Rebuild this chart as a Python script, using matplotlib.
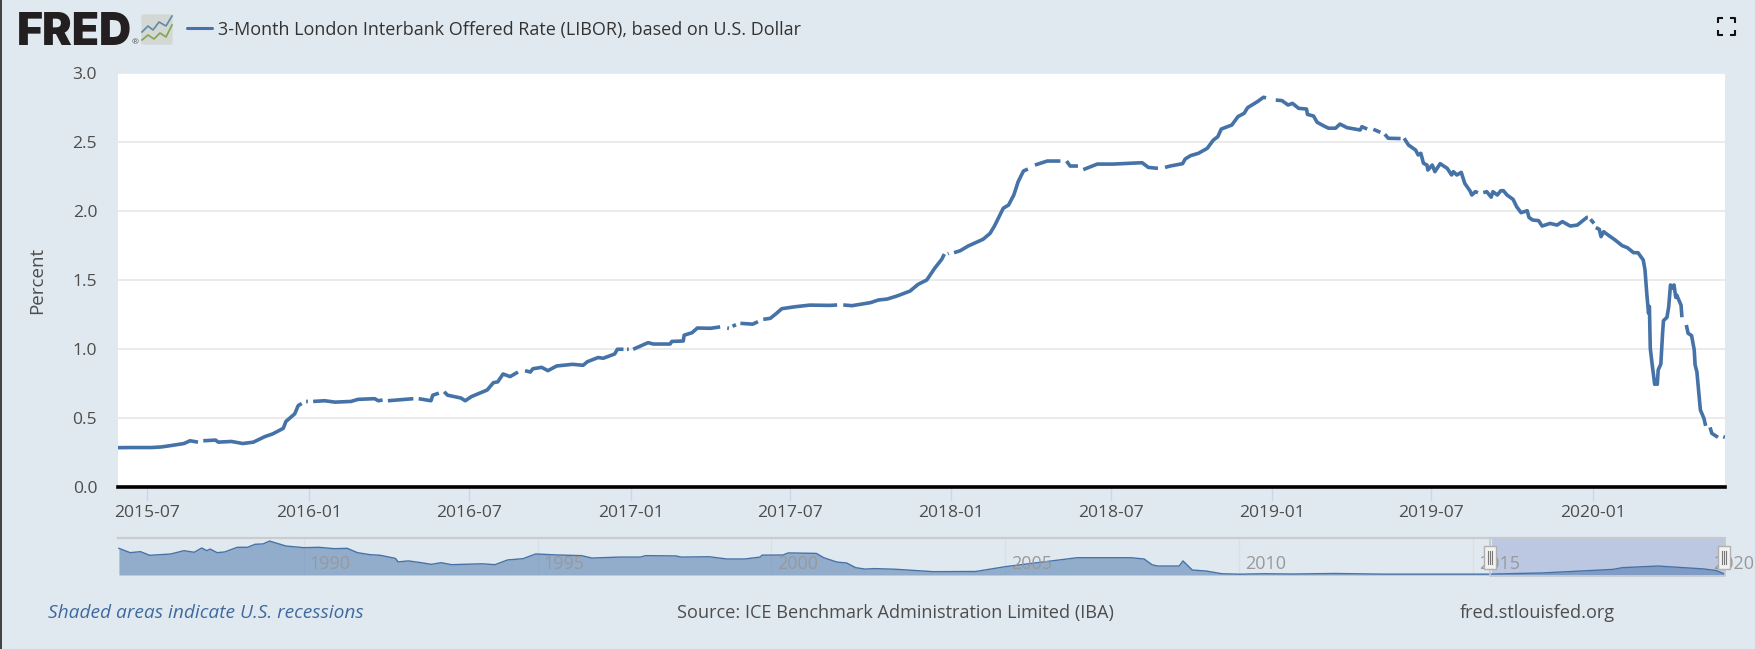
import datetime as dt
import numpy as np
import matplotlib
matplotlib.use('Agg')
import matplotlib.pyplot as plt
import matplotlib.dates as mdates
from matplotlib.patches import FancyBboxPatch, Rectangle

plt.rcParams['font.family'] = ['Open Sans', 'DejaVu Sans']

W, H = 1755, 649
BG = '#e1e9f0'
BLUE = '#4572a7'
GREY = '#4d4d4d'
nan = np.nan

# days since the first date on the x axis, nan marks a gap in the series
first_date = dt.date(2015, 5, 29)
libor_days = [
    0, 15, 38, 49, 60, 75, 82, 91, 94, 97, 111, 114, 129, 142, 154, 167, 176, 188, 191, 201,
    205, 209, 212, 214, 216, 219, 222, 235, 247, 265, 273, 292, 296, 301, 304, 307, 336, 339, 342, 356,
    358, 365, 368, 371, 375, 390, 395, 402, 420, 427, 432, 438, 446, 455, 459, 463, 469, 472, 482, 489,
    499, 517, 529, 534, 546, 552, 565, 568, 575, 577, 579, 581, 583, 586, 596, 603, 609, 628, 630, 643,
    644, 653, 659, 674, 685, 689, 693, 695, 697, 699, 703, 705, 708, 722, 728, 731, 734, 742, 749, 755,
    770, 787, 810, 818, 821, 825, 835, 856, 865, 875, 887, 901, 910, 920, 929, 937, 940, 942, 944, 945,
    948, 951, 958, 967, 984, 992, 997, 1007, 1013, 1019, 1024, 1030, 1035, 1039, 1043, 1057, 1072, 1075, 1079, 1083,
    1092, 1095, 1098, 1114, 1132, 1148, 1165, 1172, 1183, 1187, 1191, 1197, 1211, 1214, 1220, 1229, 1239, 1246, 1251, 1255,
    1267, 1274, 1281, 1285, 1296, 1303, 1306, 1308, 1311, 1314, 1317, 1324, 1331, 1336, 1343, 1352, 1353, 1360, 1364, 1373,
    1377, 1385, 1390, 1398, 1413, 1415, 1421, 1424, 1428, 1436, 1438, 1441, 1445, 1459, 1461, 1463, 1468, 1476, 1479, 1482,
    1485, 1489, 1490, 1495, 1498, 1504, 1512, 1517, 1519, 1523, 1528, 1532, 1538, 1540, 1544, 1547, 1550, 1553, 1557, 1562,
    1564, 1569, 1573, 1576, 1580, 1587, 1591, 1596, 1603, 1605, 1609, 1616, 1620, 1629, 1637, 1643, 1652, 1660, 1671, 1672,
    1673, 1675, 1679, 1680, 1681, 1685, 1687, 1690, 1695, 1703, 1711, 1717, 1724, 1729, 1735, 1737, 1739, 1741, 1742, 1743,
    1745, 1748, 1749, 1751, 1752, 1755, 1757, 1758, 1762, 1764, 1766, 1768, 1770, 1772, 1773, 1778, 1779, 1781, 1784, 1786,
    1790, 1793, 1794, 1796, 1800, 1804, 1806, 1808, 1811, 1813, 1820, 1823, 1826, 1828,
]
libor_values = [
    .285, .286, .286, .29, .30, .315, .335, .325, nan, .335, .34, .325, .33, .315, .325, .365, .385, .425, .475, .53,
    .59, .605, nan, .62, .62, nan, .62, .625, .615, .62, .635, .64, .625, .63, nan, .625, .64, nan, .64, .625,
    .665, .68, nan, .69, .665, .645, .625, .655, .703, .756, .762, .819, .80, .833, nan, .843, .833, .857, .867, .843,
    .877, .889, .882, .908, .938, .933, .964, .998, .998, nan, .998, .998, nan, .998, 1.026, 1.046, 1.036, 1.036, 1.055, 1.058,
    1.10, 1.118, 1.152, 1.15, 1.16, nan, 1.152, 1.15, nan, 1.165, 1.176, nan, 1.186, 1.18, 1.198, nan, 1.215, 1.222, 1.258, 1.292,
    1.306, 1.318, 1.316, 1.319, nan, 1.319, 1.314, 1.336, 1.355, 1.362, 1.386, 1.42, 1.468, 1.50, 1.585, 1.65, 1.688, nan, 1.69, 1.693,
    nan, 1.698, 1.712, 1.746, 1.795, 1.838, 1.891, 2.02, 2.043, 2.116, 2.213, 2.29, 2.304, nan, 2.333, 2.362, 2.362, nan, 2.362, 2.326,
    2.326, nan, 2.30, 2.34, 2.34, 2.345, 2.35, 2.316, 2.309, nan, 2.316, 2.326, 2.343, 2.377, 2.401, 2.418, 2.454, 2.514, 2.538, 2.594,
    2.623, 2.684, 2.708, 2.749, 2.792, 2.824, 2.82, nan, 2.804, nan, 2.804, 2.80, 2.768, 2.78, 2.744, 2.739, 2.70, 2.688, 2.643, 2.612,
    2.60, 2.60, 2.63, 2.604, 2.587, 2.611, 2.594, nan, 2.592, 2.57, nan, 2.556, 2.527, 2.525, nan, 2.527, 2.478, 2.442, 2.406, 2.418,
    2.346, 2.333, 2.297, 2.333, 2.285, 2.343, 2.309, 2.261, 2.285, 2.261, 2.28, 2.2, 2.145, 2.116, 2.14, 2.133, nan, 2.133, 2.14, 2.10,
    2.14, 2.116, 2.147, 2.147, 2.116, 2.084, 2.031, 1.988, 2.002, 1.954, 1.935, 1.93, 1.891, 1.91, 1.898, 1.923, 1.891, 1.898, 1.954, 1.954,
    nan, 1.94, 1.91, nan, 1.88, 1.867, 1.814, 1.85, 1.826, 1.79, 1.749, 1.734, 1.698, 1.698, 1.645, 1.573, 1.404, 1.26, 1.308, 1.005,
    .896, .744, .776, .744, .848, .891, 1.114, 1.205, 1.23, 1.308, 1.464, 1.44, 1.464, 1.374, 1.391, 1.318, 1.23, nan, 1.174, 1.114,
    1.097, .993, .884, .836, .558, .498, .443, nan, .432, .389, .36, nan, .365, .36,
]
y_ticks = [0.0, 0.5, 1.0, 1.5, 2.0, 2.5, 3.0]
x_tick_labels = ['2015-07', '2016-01', '2016-07', '2017-01', '2017-07', '2018-01',
                 '2018-07', '2019-01', '2019-07', '2020-01']

# navigator series, whole history
nav_years = [
    1986.05, 1986.29, 1986.51, 1986.71, 1987.16, 1987.44, 1987.66, 1987.82, 1987.93, 1988.0,
    1988.15, 1988.31, 1988.58, 1988.8, 1988.96, 1989.13, 1989.27, 1989.62, 1990.0, 1990.33,
    1990.65, 1990.93, 1991.15, 1991.42, 1991.64, 1991.96, 1992.02, 1992.24, 1992.51, 1992.73,
    1992.94, 1993.16, 1993.82, 1994.09, 1994.36, 1994.69, 1994.96, 1995.45, 1995.94, 1996.16,
    1996.76, 1997.2, 1997.31, 1997.96, 1998.07, 1998.67, 1999.05, 1999.43, 1999.76, 1999.8,
    2000.25, 2000.36, 2000.96, 2001.12, 2001.4, 2001.61, 2001.8, 2002.0, 2002.2, 2002.65,
    2003.46, 2004.37, 2005.0, 2006.54, 2007.69, 2007.97, 2008.14, 2008.26, 2008.72, 2008.8,
    2009.0, 2009.29, 2009.63, 2010.0, 2010.55, 2011.12, 2012.04, 2013.07, 2015.35, 2016.5,
    2017.99, 2018.2, 2018.96, 2019.93, 2020.2, 2020.37,
]
nav_values = [
    8.33, 6.98, 7.29, 6.15, 6.56, 7.6, 7.1, 8.44, 7.6, 8.1,
    6.98, 7.2, 8.65, 8.65, 9.6, 9.7, 10.6, 9.06, 8.54, 8.65,
    8.23, 8.33, 6.98, 6.35, 6.15, 5.2, 4.1, 4.4, 3.85, 3.33,
    3.85, 3.23, 3.5, 3.23, 4.7, 5.1, 6.56, 6.25, 6.05, 5.3,
    5.6, 5.6, 6.05, 5.95, 5.6, 5.7, 5.0, 5.0, 5.6, 6.2,
    6.25, 6.9, 6.75, 5.4, 4.05, 3.75, 2.3, 1.85, 2.0, 1.8,
    1.04, 1.1, 2.6, 5.4, 5.4, 5.0, 3.2, 2.8, 2.8, 4.4,
    1.55, 1.25, .4, .25, .4, .3, .47, .27, .27, .65,
    1.75, 2.3, 2.8, 1.9, 1.4, .37,
]
nav_labels = [1990, 1995, 2000, 2005, 2010, 2015, 2020]


def px_axes(left, top, right, bottom):
    return fig.add_axes([left / W, 1 - bottom / H, (right - left) / W, (bottom - top) / H])


fig = plt.figure(figsize=(W / 100, H / 100), dpi=100, facecolor=BG)

# main chart
ax = px_axes(118, 73, 1725, 487)
ax.set_facecolor('white')
dates = [first_date + dt.timedelta(days=d) for d in libor_days]
ax.plot(dates, libor_values, color=BLUE, lw=2.6, solid_joinstyle='round', solid_capstyle='butt', zorder=3)
ax.set_xlim(first_date, first_date + dt.timedelta(days=1828))
ax.set_ylim(0, 3)
ax.set_yticks(y_ticks)
ax.set_yticklabels(['%.1f' % v for v in y_ticks])
ax.set_xticks([mdates.datestr2num(s + '-01') for s in x_tick_labels])
ax.set_xticklabels(x_tick_labels)
ax.grid(axis='y', color='#e6e6e6', lw=1.1)
ax.set_axisbelow(True)
for name in ['top', 'left', 'right']:
    ax.spines[name].set_visible(False)
ax.spines['bottom'].set_color('black')
ax.spines['bottom'].set_linewidth(2.6)
ax.spines['bottom'].set_zorder(5)
ax.tick_params(axis='x', length=10, width=1, color='#ccd6eb', labelcolor=GREY, labelsize=12.6, pad=3)
ax.tick_params(axis='y', length=0, labelcolor=GREY, labelsize=12.6, pad=15)
ax.set_ylabel('Percent', fontsize=13.5, color=GREY, labelpad=19)

# navigator
nav = px_axes(118, 538, 1725, 575)
nav.set_facecolor('none')
nav.set_xlim(1986.03, 2020.39)
nav.set_ylim(0, 11.56)
nav.axvspan(2015.4, 2020.39, color='#bcc8e2', lw=0, zorder=1)
nav.fill_between(nav_years, nav_values, 0, color=BLUE, alpha=0.5, lw=0, zorder=2)
nav.plot(nav_years, nav_values, color=BLUE, lw=1, zorder=3)
nav.set_yticks([])
nav.set_xticks([])
for yr in nav_labels:
    nav.axvline(yr, color='#d8dfe8', lw=1, zorder=0)
    nav.text(yr + 0.13, 0.29, str(yr), transform=nav.get_xaxis_transform(), color='#999999',
             fontsize=13, va='center', ha='left', zorder=4, clip_on=False)
for name in ['left', 'right', 'bottom']:
    nav.spines[name].set_visible(False)
nav.spines['top'].set_color('#cccccc')
nav.spines['top'].set_linewidth(1.6)

# logo, header, footer and handles in pixel coordinates
top = fig.add_axes([0, 0, 1, 1], facecolor='none')
top.set_xlim(0, W)
top.set_ylim(H, 0)
top.axis('off')
top.add_patch(Rectangle((0, 0), 2.5, H, color='#444444', lw=0))
top.text(17, 45, 'FRED', family='Inter', weight='black', fontsize=32, color='#231f20', va='baseline', ha='left')
top.text(132, 44, '®', fontsize=6, color='#555555', va='baseline', ha='left')
top.add_patch(FancyBboxPatch((142, 15), 30, 29, boxstyle='round,pad=0,rounding_size=2', fc='#d4d8d4', ec='#d4d8d4', lw=1))
top.plot([142, 148, 153, 159, 166, 172], [32, 26, 30, 22, 26, 16], color='#5d8aa8', lw=1.2)
top.plot([142, 148, 154, 160, 166, 172], [40, 35, 39, 33, 37, 25], color='#7fa650', lw=1.2)
top.plot([187, 212], [28, 28], color=BLUE, lw=2.2, solid_capstyle='round')
top.text(218, 30, '3-Month London Interbank Offered Rate (LIBOR), based on U.S. Dollar',
         fontsize=13, color='#333333', va='center', ha='left')
for x0, y0, dx, dy in [(1718, 18, 1, 1), (1735, 18, -1, 1), (1718, 35, 1, -1), (1735, 35, -1, -1)]:
    top.plot([x0 + 5 * dx, x0, x0], [y0, y0, y0 + 5 * dy], color='#111111', lw=1.5, solid_capstyle='butt')
top.text(48, 613, 'Shaded areas indicate U.S. recessions', fontsize=13.75, style='italic', color='#3e6a9e', va='center', ha='left')
top.text(895, 613, 'Source: ICE Benchmark Administration Limited (IBA)', fontsize=13.05, color=GREY, va='center', ha='center')
top.text(1537, 613, 'fred.stlouisfed.org', fontsize=13.1, color=GREY, va='center', ha='center')
top.add_patch(Rectangle((1490, 538), 235, 38, fc='none', ec='#c4c8d0', lw=1.2))
for hx in [1490, 1724]:
    top.add_patch(Rectangle((hx - 6, 546), 12, 23, fc='#f2f2f2', ec='#b0b0b0', lw=1, zorder=6))
    for off in [-2, 0, 2]:
        top.plot([hx + off, hx + off], [551, 564], color='#777777', lw=0.8, zorder=7)

fig.savefig('out.png', dpi=100, facecolor=BG)
